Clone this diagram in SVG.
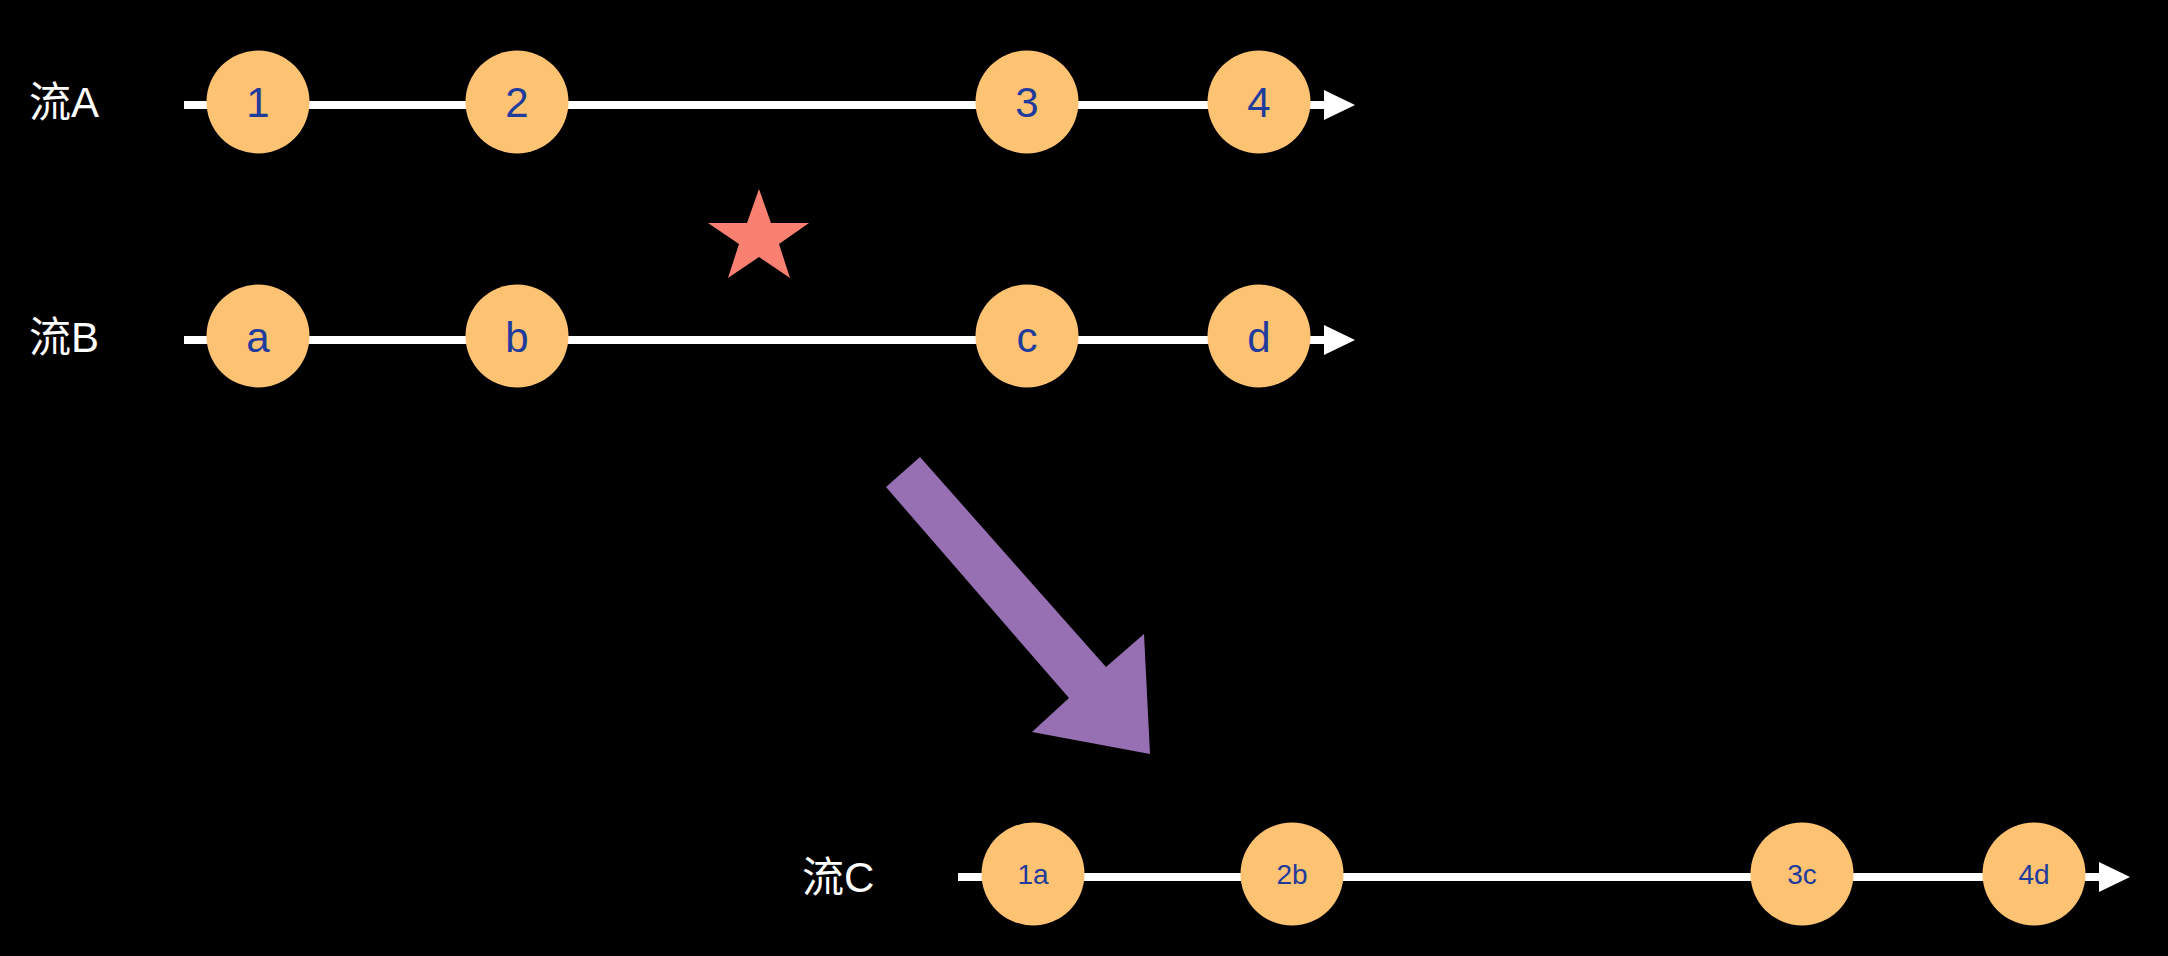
<svg xmlns="http://www.w3.org/2000/svg" width="2168" height="956" viewBox="0 0 2168 956">
<style>
.lbl{font-family:"Liberation Sans","Noto Sans CJK SC",sans-serif;font-size:42px;fill:#ffffff}
.dot{fill:#FDC272}
.t{font-family:"Liberation Sans","Noto Sans CJK SC",sans-serif;font-size:42px;fill:#1F3C9C;text-anchor:middle}
.ts{font-family:"Liberation Sans","Noto Sans CJK SC",sans-serif;font-size:28px;fill:#1F3C9C;text-anchor:middle}
.ln{stroke:#ffffff;stroke-width:8;fill:none}
.ah{fill:#ffffff}
</style>
<rect x="0" y="0" width="2168" height="956" fill="#000000"/>
<g id="connectors">
<line class="ln" x1="184" y1="105" x2="1328" y2="105"/>
<polygon class="ah" points="1324,90 1355,105 1324,120"/>
<line class="ln" x1="184" y1="340" x2="1328" y2="340"/>
<polygon class="ah" points="1324,325 1355,340 1324,355"/>
<line class="ln" x1="958" y1="877" x2="2103" y2="877"/>
<polygon class="ah" points="2099,862 2130,877 2099,892"/>
<polygon id="merge-arrow" fill="#9770B4" points="920,457 886,487 1069,698 1032,732 1150,754 1144,634 1106,667"/>
</g>
<g id="label-A"><text class="lbl" x="29" y="117">流A</text></g>
<g id="label-B"><text class="lbl" x="29" y="352">流B</text></g>
<g id="label-C"><text class="lbl" x="802" y="892">流C</text></g>
<g id="node-1"><circle class="dot" cx="258" cy="102" r="51.5"/><text class="t" x="258" y="117">1</text></g>
<g id="node-2"><circle class="dot" cx="517" cy="102" r="51.5"/><text class="t" x="517" y="117">2</text></g>
<g id="node-3"><circle class="dot" cx="1027" cy="102" r="51.5"/><text class="t" x="1027" y="117">3</text></g>
<g id="node-4"><circle class="dot" cx="1259" cy="102" r="51.5"/><text class="t" x="1259" y="117">4</text></g>
<g id="node-a"><circle class="dot" cx="258" cy="336" r="51.5"/><text class="t" x="258" y="352">a</text></g>
<g id="node-b"><circle class="dot" cx="517" cy="336" r="51.5"/><text class="t" x="517" y="352">b</text></g>
<g id="node-c"><circle class="dot" cx="1027" cy="336" r="51.5"/><text class="t" x="1027" y="352">c</text></g>
<g id="node-d"><circle class="dot" cx="1259" cy="336" r="51.5"/><text class="t" x="1259" y="352">d</text></g>
<g id="star"><polygon fill="#FA8072" points="759,189 771,223 809,223 779,244 790,278 759,257 728,278 739,244 708,223 747,223"/></g>
<g id="node-1a"><circle class="dot" cx="1033" cy="874" r="51.5"/><text class="ts" x="1033" y="884">1a</text></g>
<g id="node-2b"><circle class="dot" cx="1292" cy="874" r="51.5"/><text class="ts" x="1292" y="884">2b</text></g>
<g id="node-3c"><circle class="dot" cx="1802" cy="874" r="51.5"/><text class="ts" x="1802" y="884">3c</text></g>
<g id="node-4d"><circle class="dot" cx="2034" cy="874" r="51.5"/><text class="ts" x="2034" y="884">4d</text></g>
</svg>
